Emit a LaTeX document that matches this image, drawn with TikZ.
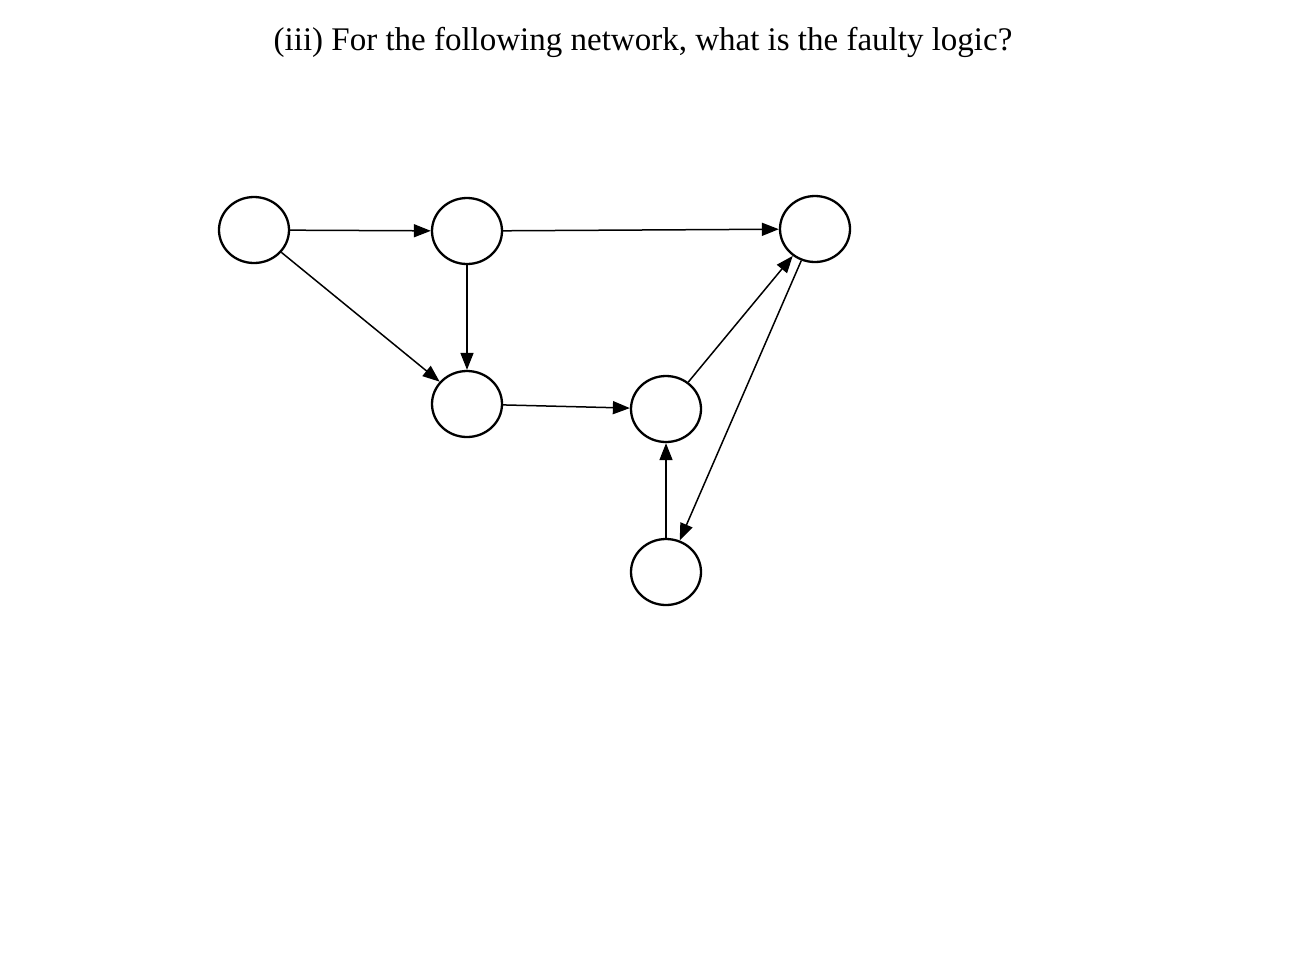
\documentclass[tikz,border=0pt]{standalone}
\usepackage{fontspec}
\setmainfont{Liberation Serif}
\usetikzlibrary{arrows.meta,shapes.geometric}
\begin{document}
\begin{tikzpicture}[x=1pt,y=-1pt,
  vert/.style={draw,ellipse,line width=2.3pt,minimum width=70pt,minimum height=66pt,inner sep=0pt,fill=white},
  edge/.style={line width=1.5pt,-{Triangle[length=17pt,width=13pt]}}]
\useasboundingbox (0,0) rectangle (1290,962);
\node[font=\fontsize{33}{40}\selectfont] (t) at (643,42) {(iii) For the following network, what is the faulty logic?};
\node[vert] (a) at (254,230) {};
\node[vert] (b) at (467,231) {};
\node[vert] (c) at (815,229) {};
\node[vert] (d) at (467,404) {};
\node[vert] (e) at (666,409) {};
\node[vert] (f) at (666,572) {};
\draw[edge] (a) -- (b);
\draw[edge] (b) -- (c);
\draw[edge] (a) -- (d);
\draw[edge] (b) -- (d);
\draw[edge] (d) -- (e);
\draw[edge] (e) -- (c);
\draw[edge] (c) -- (f);
\draw[edge] (f) -- (e);
\end{tikzpicture}
\end{document}
